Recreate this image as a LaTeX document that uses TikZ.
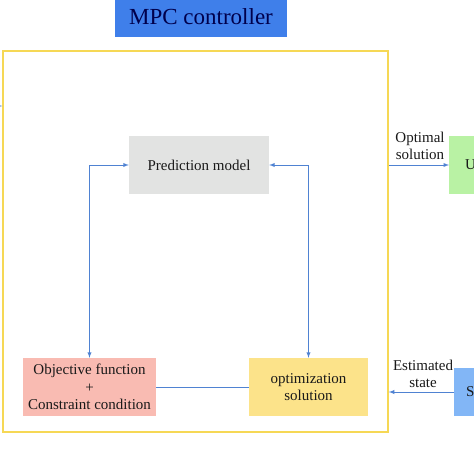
\documentclass[tikz,border=0pt]{standalone}
\usepackage{fontspec}
\newfontfamily\timesfont{Liberation Serif}
\definecolor{titleblue}{HTML}{3F7FEA}
\definecolor{frameyellow}{HTML}{F6D855}
\definecolor{predgrey}{HTML}{E2E3E2}
\definecolor{objsalmon}{HTML}{F9BBB2}
\definecolor{optyellow}{HTML}{FCE38A}
\definecolor{ugreen}{HTML}{B9F2A4}
\definecolor{sblue}{HTML}{82B6F6}
\definecolor{linkblue}{HTML}{4F82D2}
\tikzset{
  box/.style={minimum height=58pt,inner sep=0pt,align=center,text=black!90,
    font=\timesfont\fontsize{15}{17.5}\selectfont},
  link/.style={linkblue,line width=0.9pt},
  lbl/.style={align=center,inner sep=0pt,text=black!90,font=\timesfont\fontsize{15}{17}\selectfont}
}
\begin{document}
\begin{tikzpicture}[x=1pt,y=-1pt]
                \useasboundingbox[fill=white] (0,0) rectangle (474,474);
                %% title
                \node[fill=titleblue,minimum width=172pt,minimum height=40pt,inner sep=0pt,
                  text=blue!30!black,font=\timesfont\fontsize{23}{26}\selectfont] (title) at (201,17) {MPC controller};
                %% controller frame
                \node[draw=frameyellow,line width=1.6pt,minimum width=385pt,minimum height=381pt] (frame) at (195.5,241.5) {};
                %% blocks inside
                \node[box,fill=predgrey,minimum width=140pt] (pred) at (199,165) {Prediction model};
                \node[box,fill=objsalmon,minimum width=133pt] (obj) at (89.5,387) {Objective function\\+\\Constraint condition};
                \node[box,fill=optyellow,minimum width=119pt] (opt) at (308.5,387) {optimization\\solution};
                %% blocks outside, cut by the page
                \node[box,fill=ugreen,anchor=west,text width=30pt,align=left,inner xsep=16pt] (ubox) at (449,165) {U};
                \node[box,fill=sblue,anchor=west,minimum height=48pt,text width=30pt,align=left,inner xsep=12pt] (sbox) at (454,392) {S};
                %% loops
                \draw[link,latex-latex] (pred.west) -| (obj.north);
                \draw[link,latex-latex] (pred.east) -| (opt.north);
                \draw[link] (obj.east) -- (opt.west);
                %% in and out
                \draw[link,-latex] (frame.east |- pred.east) -- (ubox.west);
                \node[lbl] (optlbl) at (420,146) {Optimal\\solution};
                \draw[link,-latex] (sbox.west) -- (sbox.west -| frame.east);
                \node[lbl] (estlbl) at (423,374) {Estimated\\state};
                \coordinate (inlet) at (-6,106);
                \draw[link,-latex] (inlet) -- (inlet -| frame.west);
            \end{tikzpicture}
\end{document}
